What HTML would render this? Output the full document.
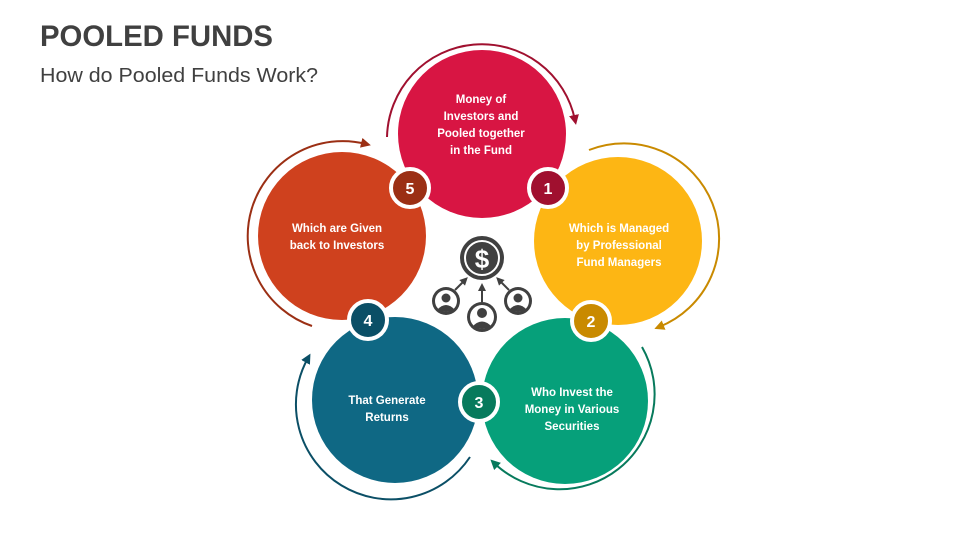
<!DOCTYPE html>
<html><head><meta charset="utf-8"><style>
html,body{margin:0;padding:0;background:#fff;}
svg{display:block;}
text{font-family:"Liberation Sans",sans-serif;}
</style></head><body>
<svg width="960" height="540" viewBox="0 0 960 540" xmlns="http://www.w3.org/2000/svg">
<defs>
<marker id="m1" markerWidth="10" markerHeight="10" refX="5" refY="5" orient="auto" markerUnits="userSpaceOnUse"><path d="M0,0 L10,5 L0,10 z" fill="#A0102F"/></marker>
<marker id="m2" markerWidth="10" markerHeight="10" refX="5" refY="5" orient="auto" markerUnits="userSpaceOnUse"><path d="M0,0 L10,5 L0,10 z" fill="#C98A00"/></marker>
<marker id="m3" markerWidth="10" markerHeight="10" refX="5" refY="5" orient="auto" markerUnits="userSpaceOnUse"><path d="M0,0 L10,5 L0,10 z" fill="#077A5C"/></marker>
<marker id="m4" markerWidth="10" markerHeight="10" refX="5" refY="5" orient="auto" markerUnits="userSpaceOnUse"><path d="M0,0 L10,5 L0,10 z" fill="#0B4F66"/></marker>
<marker id="m5" markerWidth="10" markerHeight="10" refX="5" refY="5" orient="auto" markerUnits="userSpaceOnUse"><path d="M0,0 L10,5 L0,10 z" fill="#9B2F14"/></marker>
<marker id="mg" markerWidth="8" markerHeight="8" refX="4" refY="4" orient="auto" markerUnits="userSpaceOnUse"><path d="M0,0 L8,4 L0,8 z" fill="#404040"/></marker>
</defs>

<text x="40" y="46" font-size="30" font-weight="bold" fill="#404040" textLength="233" lengthAdjust="spacingAndGlyphs">POOLED FUNDS</text>
<text x="40" y="82" font-size="20" fill="#404040" textLength="278" lengthAdjust="spacingAndGlyphs">How do Pooled Funds Work?</text>

<!-- arcs -->
<g fill="none" stroke-width="2">
<path d="M387 137 A95 95 0 0 1 575 120" stroke="#A0102F" marker-end="url(#m1)"/>
<path d="M589 150 A95 95 0 0 1 659 327" stroke="#C98A00" marker-end="url(#m2)"/>
<path d="M642 347 A95 95 0 0 1 494 463" stroke="#077A5C" marker-end="url(#m3)"/>
<path d="M470 457 A95 95 0 0 1 308 358" stroke="#0B4F66" marker-end="url(#m4)"/>
<path d="M312 326 A95 95 0 0 1 366 144" stroke="#9B2F14" marker-end="url(#m5)"/>
</g>

<!-- circles -->
<circle cx="342" cy="236" r="84" fill="#CF411E"/>
<circle cx="395" cy="400" r="83" fill="#0F6884"/>
<circle cx="565" cy="401" r="83" fill="#06A07A"/>
<circle cx="618" cy="241" r="84" fill="#FDB614"/>
<circle cx="482" cy="134" r="84" fill="#D81543"/>

<!-- texts -->
<g fill="#fff" font-size="11.5" font-weight="bold" text-anchor="middle">
<text x="481" y="103">Money of</text>
<text x="481" y="120">Investors and</text>
<text x="481" y="137">Pooled together</text>
<text x="481" y="154">in the Fund</text>
<text x="619" y="232">Which is Managed</text>
<text x="619" y="249">by Professional</text>
<text x="619" y="266">Fund Managers</text>
<text x="572" y="396">Who Invest the</text>
<text x="572" y="413">Money in Various</text>
<text x="572" y="430">Securities</text>
<text x="387" y="404">That Generate</text>
<text x="387" y="421">Returns</text>
<text x="337" y="232">Which are Given</text>
<text x="337" y="249">back to Investors</text>
</g>

<!-- badges -->
<g stroke="#fff" stroke-width="4">
<circle cx="548" cy="188" r="19" fill="#A0102F"/>
<circle cx="591" cy="321" r="19" fill="#C98A00"/>
<circle cx="479" cy="402" r="19" fill="#077A5C"/>
<circle cx="368" cy="320" r="19" fill="#0B4F66"/>
<circle cx="410" cy="188" r="19" fill="#9B2F14"/>
</g>
<g fill="#fff" font-size="16" font-weight="bold" text-anchor="middle">
<text x="548" y="194">1</text>
<text x="591" y="327">2</text>
<text x="479" y="408">3</text>
<text x="368" y="326">4</text>
<text x="410" y="194">5</text>
</g>

<!-- center icon -->
<circle cx="482" cy="258" r="22" fill="#404040"/>
<circle cx="482" cy="258" r="17" fill="none" stroke="#fff" stroke-width="2"/>
<text x="482" y="268" font-size="26" font-weight="bold" fill="#fff" text-anchor="middle">$</text>
<g stroke="#404040" stroke-width="2" fill="none">
<line x1="455" y1="290" x2="465" y2="280" marker-end="url(#mg)"/>
<line x1="482" y1="302" x2="482" y2="287" marker-end="url(#mg)"/>
<line x1="509" y1="290" x2="499" y2="280" marker-end="url(#mg)"/>
</g>
<g>
<circle cx="446" cy="301" r="14" fill="#404040"/>
<circle cx="482" cy="317" r="15" fill="#404040"/>
<circle cx="518" cy="301" r="14" fill="#404040"/>
<g fill="#fff">
<circle cx="446" cy="301" r="11"/><circle cx="482" cy="317" r="12"/><circle cx="518" cy="301" r="11"/>
</g>
<g fill="#404040">
<circle cx="446" cy="298" r="4.5"/><path d="M437 310 Q446 300 455 310 Q451 312 446 312 Q441 312 437 310z"/>
<circle cx="482" cy="313" r="5"/><path d="M472 327 Q482 316 492 327 Q487 329 482 329 Q477 329 472 327z"/>
<circle cx="518" cy="298" r="4.5"/><path d="M509 310 Q518 300 527 310 Q523 312 518 312 Q513 312 509 310z"/>
</g>
</g>
</svg>
</body></html>
